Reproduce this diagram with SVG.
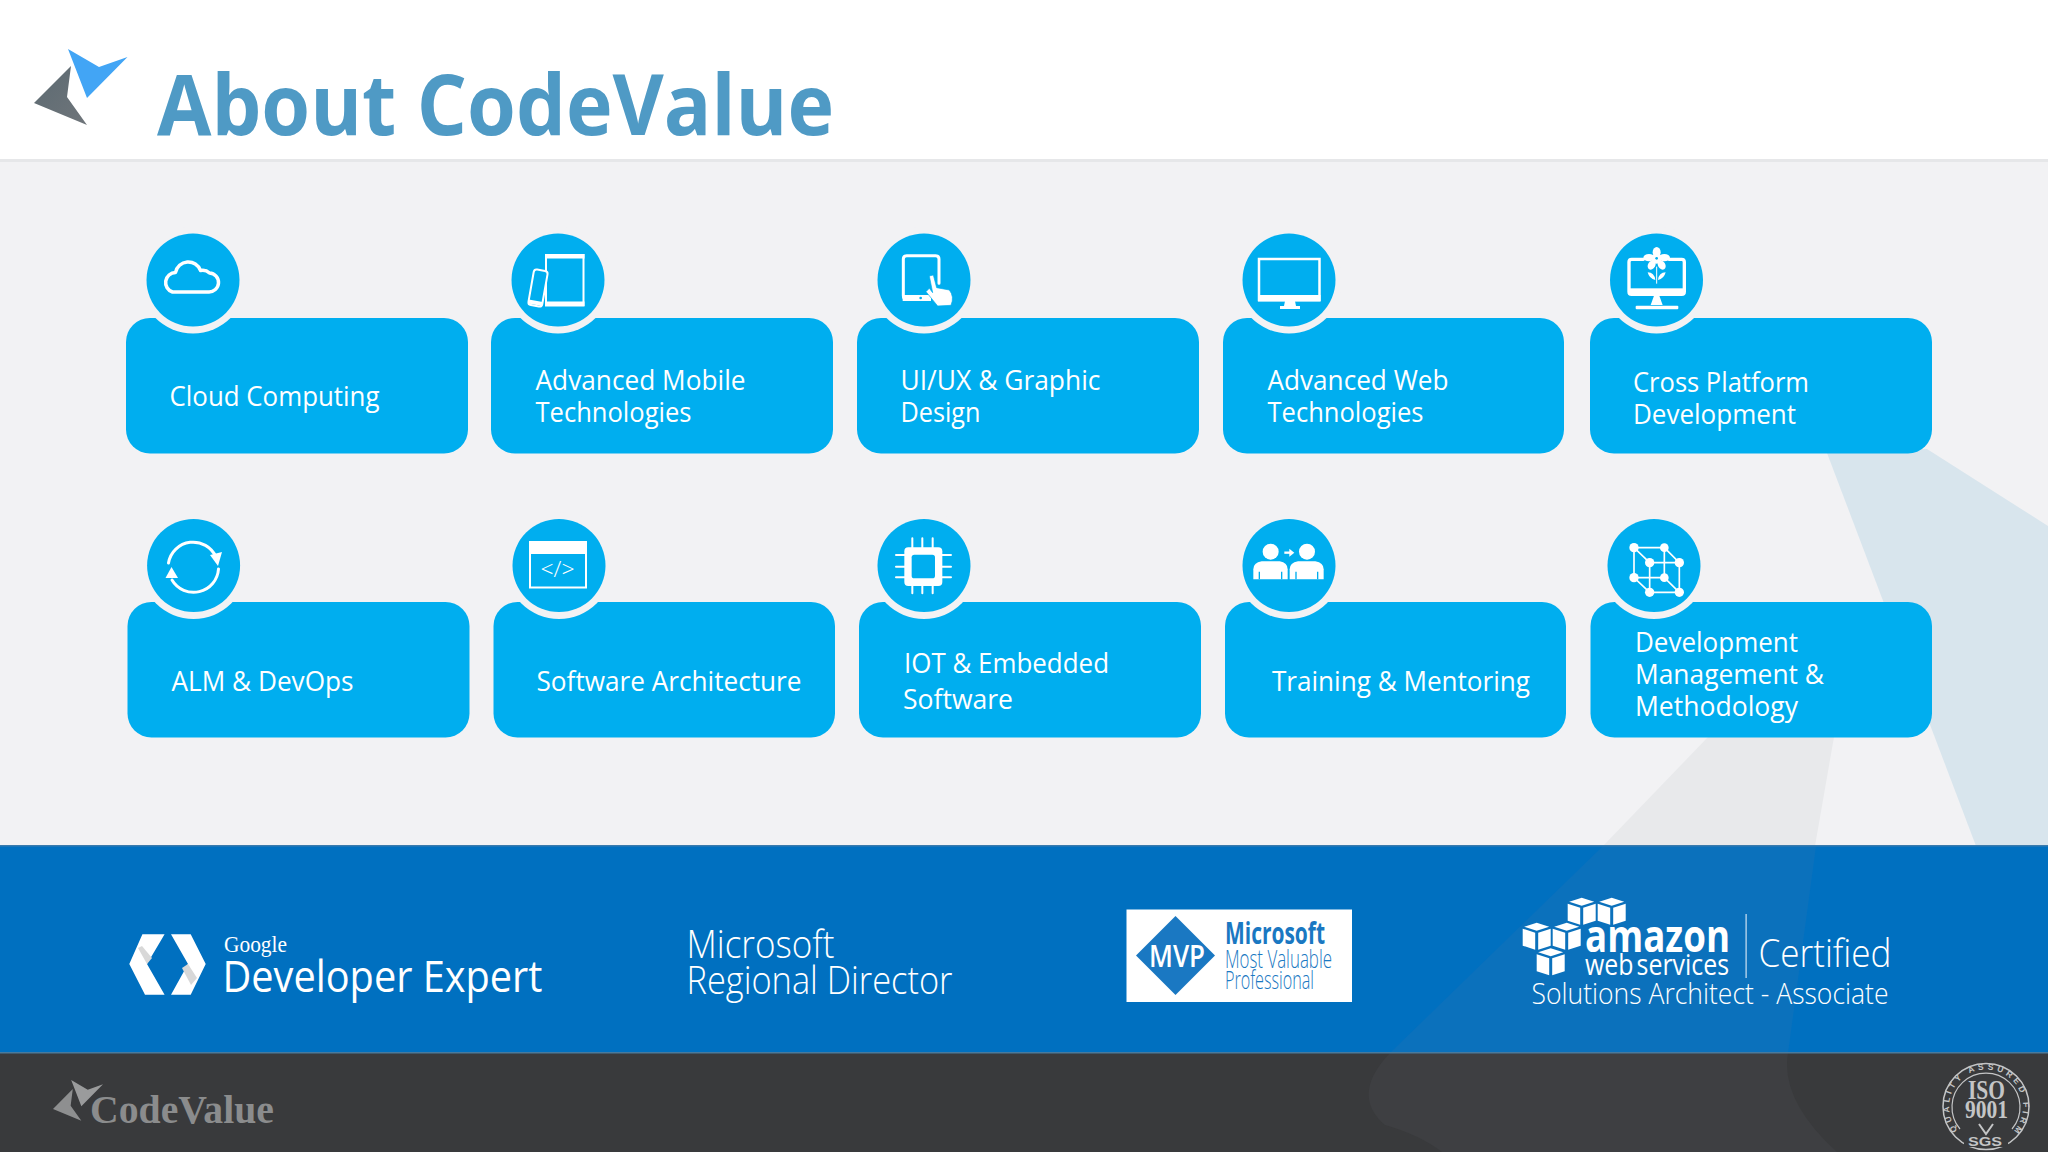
<svg xmlns="http://www.w3.org/2000/svg" xmlns:xlink="http://www.w3.org/1999/xlink" width="2048" height="1152" viewBox="0 0 2048 1152">
<style>
.card{fill:#00aeef}
.halo{fill:#f2f2f4}
.disc{fill:#00aeef}
.lbl{font-family:"Open Sans","Noto Sans",sans-serif;font-size:27px;fill:#fff}
.lt{font-family:"Open Sans","Noto Sans",sans-serif;font-weight:300;fill:#fff}
.ico{fill:none;stroke:#fff;stroke-linecap:round;stroke-linejoin:round}
.w{fill:#fff}
.iso{font-family:"Liberation Serif",serif;font-weight:700;fill:#c4c5c6}
</style>
<defs>
<g id="cube" fill="#fff"><polygon points="0,0 12.5,4 0,8 -12.5,4"/><polygon points="-14,6 -1.5,10 -1.5,27 -14,23"/><polygon points="1.5,10 14,6 14,23 1.5,27"/></g>
<path id="ring" d="M1986 1143.500a37 37 0 1 1 .1 0"/>
<linearGradient id="gr" x1="0" y1="0" x2="1" y2="1"><stop offset="0" stop-color="#5c6a72"/><stop offset="1" stop-color="#6f757a"/></linearGradient>
</defs>

<g id="background">
<rect width="2048" height="160" fill="#fff"/>
<rect y="160" width="2048" height="686" fill="#f2f2f4"/>
<rect y="159" width="2048" height="3" fill="#e6e7e9"/>
<polygon points="1827,453 1976,846 2048,846 2048,526 1927,449" fill="#d8e5ed"/>
<polygon points="1708,737 1834,737 1815,846 1603,846" fill="#e8e9eb"/>
<rect y="845" width="2048" height="208" fill="#0070c0"/>
<polygon points="1603,846 1816,846 1788,1053 1390,1053" fill="#0b71bc"/>
<rect y="1053" width="2048" height="99" fill="#393a3c"/>
<path d="M1390 1053 Q1350 1095 1385 1125 Q1420 1135 1442 1152 H1837 Q1780 1100 1788 1053 Z" fill="#3e3f42"/>
<rect y="845" width="2048" height="1.500" fill="#3a7bad"/>
<rect y="1052" width="2048" height="1.500" fill="#4a7a9c"/>
</g>

<g id="header">
<polygon points="71,66 67,97 87,125 34,103" fill="url(#gr)"/>
<polygon points="68,49 99,67 127.500,57 87,98" fill="#42a5f5"/>
<text x="157" y="135" font-family="Open Sans, Noto Sans, sans-serif" font-weight="700" font-size="84" fill="#4f9ac5" textLength="677" lengthAdjust="spacingAndGlyphs">About CodeValue</text>
</g>

<g id="card-cloud">
<rect class="card" x="126" y="318" width="342" height="135.500" rx="24"/>
<circle class="halo" cx="193" cy="280" r="53.500"/><circle class="disc" cx="193" cy="280" r="46.500"/>
<path class="ico" stroke-width="3.500" transform="translate(-2.500 .5)" d="M175 291.500H211A9.500 9.500 0 0 0 212 272.500A10 10 0 0 0 203 270A13 13 0 0 0 178 272A10 10 0 0 0 175 291.500Z"/>
<text class="lbl" x="169.500" y="405.500" textLength="210" lengthAdjust="spacingAndGlyphs">Cloud Computing</text>
</g>
<g id="card-mobile">
<rect class="card" x="491" y="318" width="342" height="135.500" rx="24"/>
<circle class="halo" cx="558" cy="280" r="53.500"/><circle class="disc" cx="558" cy="280" r="46.500"/>
<rect x="546" y="255" width="37.500" height="50.500" fill="none" stroke="#fff" stroke-width="2"/>
<rect x="545" y="254" width="39.500" height="4.500" class="w"/><rect x="545" y="301.500" width="39.500" height="4.500" class="w"/>
<g transform="rotate(10 538 288)"><rect x="531" y="270" width="14" height="36" rx="3" fill="#00aeef" stroke="#fff" stroke-width="2"/><rect x="531" y="301" width="14" height="4" class="w"/></g>
<text class="lbl" x="535.500" y="389.500" textLength="210" lengthAdjust="spacingAndGlyphs">Advanced Mobile</text>
<text class="lbl" x="535.500" y="421.500" textLength="156" lengthAdjust="spacingAndGlyphs">Technologies</text>
</g>
<g id="card-uiux">
<rect class="card" x="857" y="318" width="342" height="135.500" rx="24"/>
<circle class="halo" cx="924" cy="280" r="53.500"/><circle class="disc" cx="924" cy="280" r="46.500"/>
<g transform="translate(870 225) scale(.3333)">
<path d="M175 222H110Q100 222 100 212V102Q100 92 110 92H197Q207 92 207 102V175" fill="none" stroke="#fff" stroke-width="9" stroke-linecap="round"/>
<rect x="98" y="210" width="85" height="18" class="w"/><circle cx="152" cy="219" r="4" fill="#00aeef"/>
<path d="M178 153L190 150L200 188L238 195Q254 215 243 241L203 243L168 200L178 190L188 203Z" fill="#fff" stroke="#00aeef" stroke-width="2"/>
</g>
<text class="lbl" x="900.500" y="389.500" textLength="200" lengthAdjust="spacingAndGlyphs">UI/UX &amp; Graphic</text>
<text class="lbl" x="900.500" y="421.500" textLength="80" lengthAdjust="spacingAndGlyphs">Design</text>
</g>
<g id="card-web">
<rect class="card" x="1223" y="318" width="341" height="135.500" rx="24"/>
<circle class="halo" cx="1289" cy="280" r="53.500"/><circle class="disc" cx="1289" cy="280" r="46.500"/>
<rect x="1259" y="259" width="60.500" height="41" fill="none" stroke="#fff" stroke-width="2.500"/>
<rect x="1258" y="295" width="62.500" height="6.500" class="w"/>
<polygon points="1285,301 1295,301 1296,306 1300,306 1300,309 1280,309 1280,306 1284,306" class="w"/>
<text class="lbl" x="1267.500" y="389.500" textLength="181" lengthAdjust="spacingAndGlyphs">Advanced Web</text>
<text class="lbl" x="1267.500" y="421.500" textLength="156" lengthAdjust="spacingAndGlyphs">Technologies</text>
</g>
<g id="card-cross">
<rect class="card" x="1590" y="318" width="342" height="135.500" rx="24"/>
<circle class="halo" cx="1656.500" cy="280" r="53.500"/><circle class="disc" cx="1656.500" cy="280" r="46.500"/>
<g transform="translate(1600 225) scale(.3333)">
<path d="M130 103H95Q87 103 87 111V200Q87 208 95 208H245Q253 208 253 200V111Q253 103 245 103H207" fill="none" stroke="#fff" stroke-width="10" stroke-linecap="round"/>
<rect x="87" y="190" width="166" height="20" class="w"/>
<polygon points="162,212 178,212 188,240 152,240" class="w"/><rect x="107" y="242" width="128" height="11" rx="3" class="w"/>
<g class="w"><ellipse cx="170" cy="82" rx="12" ry="16"/><ellipse cx="193" cy="98" rx="17" ry="11"/><ellipse cx="185" cy="120" rx="11" ry="15" transform="rotate(-30 185 120)"/><ellipse cx="155" cy="120" rx="11" ry="15" transform="rotate(30 155 120)"/><ellipse cx="147" cy="98" rx="17" ry="11"/><circle cx="170" cy="101" r="15"/></g>
<circle cx="170" cy="100" r="4" fill="#00aeef"/>
<path d="M170 125V176" stroke="#fff" stroke-width="3"/>
<path d="M166 165Q148 162 143 142Q163 142 166 165ZM174 165Q192 162 197 142Q177 142 174 165Z" class="w"/>
</g>
<text class="lbl" x="1633" y="392" textLength="176" lengthAdjust="spacingAndGlyphs">Cross Platform</text>
<text class="lbl" x="1633" y="424" textLength="163" lengthAdjust="spacingAndGlyphs">Development</text>
</g>
<g id="card-devops">
<rect class="card" x="127.500" y="602" width="342" height="135.500" rx="24"/>
<circle class="halo" cx="193.600" cy="565.500" r="53.500"/><circle class="disc" cx="193.600" cy="565.500" r="46.500"/>
<path class="ico" stroke-width="3" d="M168.500 563A25 25 0 0 1 216 557M218.500 569A25 25 0 0 1 172 580"/>
<polygon points="210,555 222,552 218,566" class="w"/><polygon points="171.500,567 165.500,578 178,578" class="w"/>
<text class="lbl" x="171.500" y="691" textLength="182" lengthAdjust="spacingAndGlyphs">ALM &amp; DevOps</text>
</g>
<g id="card-architecture">
<rect class="card" x="493.500" y="602" width="341.500" height="135.500" rx="24"/>
<circle class="halo" cx="559" cy="565.500" r="53.500"/><circle class="disc" cx="559" cy="565.500" r="46.500"/>
<rect x="530" y="542" width="56" height="45.500" fill="none" stroke="#fff" stroke-width="2"/><rect x="529" y="541" width="58" height="13" class="w"/>
<text x="540.500" y="577" font-family="Open Sans, sans-serif" font-weight="300" font-size="22" fill="#fff" textLength="34" lengthAdjust="spacingAndGlyphs">&lt;/&gt;</text>
<text class="lbl" x="536.500" y="691" textLength="265" lengthAdjust="spacingAndGlyphs">Software Architecture</text>
</g>
<g id="card-iot">
<rect class="card" x="859" y="602" width="342" height="135.500" rx="24"/>
<circle class="halo" cx="924" cy="565.500" r="53.500"/><circle class="disc" cx="924" cy="565.500" r="46.500"/>
<g transform="translate(870 510) scale(.3333)">
<path d="M127 85V250M157 85V250M188 85V250M78 135H243M78 170H243M78 202H243" stroke="#fff" stroke-width="6" stroke-linecap="round"/>
<rect x="103" y="112" width="114" height="116" rx="12" class="w"/>
<rect x="125" y="134" width="70" height="71" rx="8" fill="#00aeef"/>
</g>
<text class="lbl" x="904" y="673" textLength="205" lengthAdjust="spacingAndGlyphs">IOT &amp; Embedded</text>
<text class="lbl" x="903" y="709" textLength="110" lengthAdjust="spacingAndGlyphs">Software</text>
</g>
<g id="card-training">
<rect class="card" x="1225" y="602" width="341" height="135.500" rx="24"/>
<circle class="halo" cx="1289" cy="565.500" r="53.500"/><circle class="disc" cx="1289" cy="565.500" r="46.500"/>
<g transform="translate(1235 510) scale(.3333)">
<circle cx="107" cy="125" r="24" class="w"/><circle cx="216" cy="125" r="24" class="w"/>
<path d="M55 208V178Q55 158 80 154H134Q158 158 158 178V208Z" class="w"/>
<path d="M164 208V178Q164 158 189 154H241Q266 158 266 178V208Z" class="w"/>
<path d="M73 185V208M140 185V208M183 185V208M248 185V208" stroke="#00aeef" stroke-width="4"/>
<path d="M148 128H166" stroke="#fff" stroke-width="7"/><polygon points="163,116 178,128 163,140" class="w"/>
</g>
<text class="lbl" x="1272" y="691" textLength="258" lengthAdjust="spacingAndGlyphs">Training &amp; Mentoring</text>
</g>
<g id="card-management">
<rect class="card" x="1590.500" y="602" width="341.500" height="135.500" rx="24"/>
<circle class="halo" cx="1654" cy="565.500" r="53.500"/><circle class="disc" cx="1654" cy="565.500" r="46.500"/>
<g transform="translate(1600 510) scale(.3333)">
<path d="M102 113H193L238 158H149ZM102 203H193L238 247H149ZM102 113V203M193 113V203M149 158V247M238 158V247" fill="none" stroke="#fff" stroke-width="5"/>
<g class="w"><circle cx="102" cy="113" r="14"/><circle cx="193" cy="113" r="13"/><circle cx="149" cy="158" r="14"/><circle cx="238" cy="158" r="14"/><circle cx="102" cy="203" r="14"/><circle cx="193" cy="203" r="13"/><circle cx="149" cy="247" r="14"/><circle cx="238" cy="247" r="14"/></g>
</g>
<text class="lbl" x="1635" y="651.500" textLength="163" lengthAdjust="spacingAndGlyphs">Development</text>
<text class="lbl" x="1635" y="683.500" textLength="189" lengthAdjust="spacingAndGlyphs">Management &amp;</text>
<text class="lbl" x="1635" y="716" textLength="163" lengthAdjust="spacingAndGlyphs">Methodology</text>
</g>

<g id="badge-gde">
<polygon points="142.400,934.300 164.600,934.300 147,964 164.600,994.700 145,994.700 129.300,964" class="w"/>
<polygon points="171,934.300 190.700,934.300 205.700,964 190.700,994.700 171,994.700 188,964" class="w"/>
<polygon points="138,948 142,946 152,958 147,964" fill="#d8d8d8"/><polygon points="182,968 188,964 197,978 191,985" fill="#d8d8d8"/>
<text x="224" y="952" font-family="Liberation Serif, serif" font-size="24" fill="#fff" textLength="63" lengthAdjust="spacingAndGlyphs">Google</text>
<text x="222.500" y="992" font-family="Open Sans, sans-serif" font-size="43" fill="#fff" textLength="320" lengthAdjust="spacingAndGlyphs">Developer Expert</text>
</g>
<g id="badge-rd">
<text class="lt" x="686.500" y="957.500" font-size="38" textLength="148" lengthAdjust="spacingAndGlyphs">Microsoft</text>
<text class="lt" x="686.500" y="994" font-size="38" textLength="266" lengthAdjust="spacingAndGlyphs">Regional Director</text>
</g>
<g id="badge-mvp">
<rect x="1126.500" y="909.500" width="225.500" height="92.500" fill="#fff"/>
<polygon points="1175.500,916 1215,955.500 1175.500,995 1136,955.500" fill="#1a78c2"/>
<text x="1149" y="967" font-family="Open Sans, sans-serif" font-weight="600" font-size="31" fill="#fff" textLength="56" lengthAdjust="spacingAndGlyphs">MVP</text>
<text x="1225" y="944" font-family="Open Sans, sans-serif" font-weight="700" font-size="30" fill="#1a78c2" textLength="100" lengthAdjust="spacingAndGlyphs">Microsoft</text>
<text x="1225" y="968" font-family="Open Sans, sans-serif" font-weight="300" font-size="25" fill="#1a78c2" textLength="107" lengthAdjust="spacingAndGlyphs">Most Valuable</text>
<text x="1225" y="988.500" font-family="Open Sans, sans-serif" font-weight="300" font-size="25" fill="#1a78c2" textLength="89" lengthAdjust="spacingAndGlyphs">Professional</text>
</g>
<g id="badge-aws">
<use href="#cube" x="1581.700" y="897.700"/><use href="#cube" x="1611.700" y="897.700"/>
<use href="#cube" x="1536.700" y="922.700"/><use href="#cube" x="1566.700" y="922.700"/>
<use href="#cube" x="1550.700" y="948.300"/>
<text x="1585" y="952" font-family="Open Sans, sans-serif" font-weight="700" font-size="45" fill="#fff" textLength="145" lengthAdjust="spacingAndGlyphs">amazon</text>
<text x="1585" y="975" font-family="Open Sans, sans-serif" font-size="30" fill="#fff" textLength="144" lengthAdjust="spacingAndGlyphs" word-spacing="-4">web services</text>
<rect x="1745.500" y="914" width="1.200" height="64" fill="#cfe3f3"/>
<text class="lt" x="1758.500" y="967" font-size="39" textLength="133" lengthAdjust="spacingAndGlyphs">Certified</text>
<text class="lt" x="1531.500" y="1003.500" font-size="29" textLength="357" lengthAdjust="spacingAndGlyphs">Solutions Architect - Associate</text>
</g>

<g id="footer-logo">
<g transform="translate(34.800 1053.800) scale(.535)">
<polygon points="71,66 67,97 87,125 34,103" fill="#8e8f90"/>
<polygon points="68,49 99,67 127.500,57 87,98" fill="#9a9b9c"/>
</g>
<text x="90" y="1123" font-family="Liberation Serif, serif" font-weight="700" font-size="41" fill="#8b8c8d" textLength="184" lengthAdjust="spacingAndGlyphs">CodeValue</text>
</g>
<g id="iso-badge">
<circle cx="1986" cy="1106.500" r="43" fill="none" stroke="#c4c5c6" stroke-width="1.500"/>
<path d="M1960 1129A34 34 0 1 1 2012 1129" fill="none" stroke="#c4c5c6" stroke-width="1.200"/>
<text font-family="Liberation Sans, sans-serif" font-weight="700" font-size="8.500" fill="#c4c5c6"><textPath href="#ring" startOffset="14%" textLength="168" lengthAdjust="spacing">QUALITY ASSURED FIRM</textPath></text>
<text class="iso" x="1968" y="1099" font-size="27" textLength="37" lengthAdjust="spacingAndGlyphs">ISO</text>
<text class="iso" x="1965" y="1118" font-size="25" textLength="43" lengthAdjust="spacingAndGlyphs">9001</text>
<path d="M1979 1124L1986 1134L1993 1124" fill="none" stroke="#c4c5c6" stroke-width="2"/>
<rect x="1964" y="1136" width="44" height="11" fill="#393a3c"/>
<text x="1968" y="1146" font-family="Liberation Sans, sans-serif" font-weight="700" font-size="12" fill="#c4c5c6" textLength="34" lengthAdjust="spacingAndGlyphs">SGS</text>
</g>
</svg>
